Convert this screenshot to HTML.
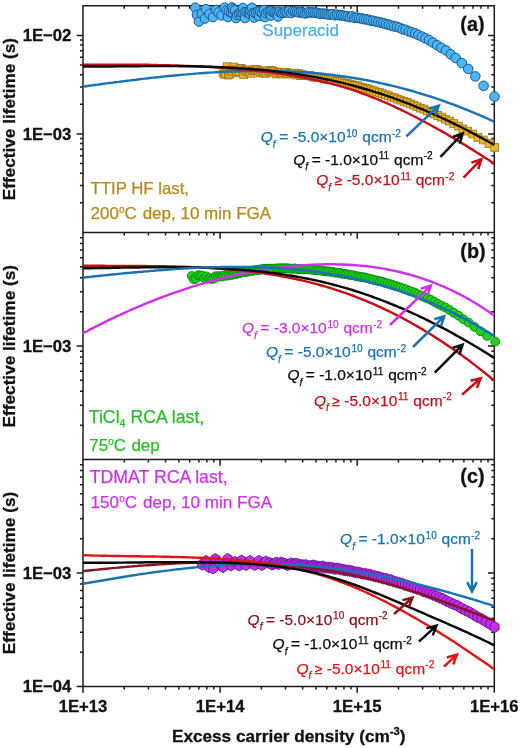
<!DOCTYPE html>
<html><head><meta charset="utf-8"><title>Effective lifetime vs excess carrier density</title>
<style>html,body{margin:0;padding:0;background:#fff}svg{display:block;filter:blur(0.4px)}</style></head>
<body>
<svg width="520" height="748" viewBox="0 0 520 748" font-family="'Liberation Sans', Arial, sans-serif">
<rect width="520" height="748" fill="#fff"/>
<g stroke="#1c1c1c" stroke-width="1.5" fill="none" stroke-linecap="butt">
<path d="M83.0 5.75V686.5M494.3 5.75V686.5"/>
<path d="M82.25 5.75H495.05"/>
<path d="M82.25 232.5H495.05"/>
<path d="M82.25 459.5H495.05"/>
<path d="M82.25 686.5H495.05"/>
<path d="M124.27 5.75v3.0M148.41 5.75v3.0M165.54 5.75v3.0M178.83 5.75v3.0M189.68 5.75v3.0M198.86 5.75v3.0M206.81 5.75v3.0M213.83 5.75v3.0M220.10 5.75v6.3M261.37 5.75v3.0M285.51 5.75v3.0M302.64 5.75v3.0M315.93 5.75v3.0M326.78 5.75v3.0M335.96 5.75v3.0M343.91 5.75v3.0M350.93 5.75v3.0M357.20 5.75v6.3M398.47 5.75v3.0M422.61 5.75v3.0M439.74 5.75v3.0M453.03 5.75v3.0M463.88 5.75v3.0M473.06 5.75v3.0M481.01 5.75v3.0M488.03 5.75v3.0M124.27 232.5v3.0M148.41 232.5v3.0M165.54 232.5v3.0M178.83 232.5v3.0M189.68 232.5v3.0M198.86 232.5v3.0M206.81 232.5v3.0M213.83 232.5v3.0M220.10 232.5v6.3M261.37 232.5v3.0M285.51 232.5v3.0M302.64 232.5v3.0M315.93 232.5v3.0M326.78 232.5v3.0M335.96 232.5v3.0M343.91 232.5v3.0M350.93 232.5v3.0M357.20 232.5v6.3M398.47 232.5v3.0M422.61 232.5v3.0M439.74 232.5v3.0M453.03 232.5v3.0M463.88 232.5v3.0M473.06 232.5v3.0M481.01 232.5v3.0M488.03 232.5v3.0M124.27 459.5v3.0M148.41 459.5v3.0M165.54 459.5v3.0M178.83 459.5v3.0M189.68 459.5v3.0M198.86 459.5v3.0M206.81 459.5v3.0M213.83 459.5v3.0M220.10 459.5v6.3M261.37 459.5v3.0M285.51 459.5v3.0M302.64 459.5v3.0M315.93 459.5v3.0M326.78 459.5v3.0M335.96 459.5v3.0M343.91 459.5v3.0M350.93 459.5v3.0M357.20 459.5v6.3M398.47 459.5v3.0M422.61 459.5v3.0M439.74 459.5v3.0M453.03 459.5v3.0M463.88 459.5v3.0M473.06 459.5v3.0M481.01 459.5v3.0M488.03 459.5v3.0M83.00 686.5v6.3M124.27 686.5v3.0M148.41 686.5v3.0M165.54 686.5v3.0M178.83 686.5v3.0M189.68 686.5v3.0M198.86 686.5v3.0M206.81 686.5v3.0M213.83 686.5v3.0M220.10 686.5v6.3M261.37 686.5v3.0M285.51 686.5v3.0M302.64 686.5v3.0M315.93 686.5v3.0M326.78 686.5v3.0M335.96 686.5v3.0M343.91 686.5v3.0M350.93 686.5v3.0M357.20 686.5v6.3M398.47 686.5v3.0M422.61 686.5v3.0M439.74 686.5v3.0M453.03 686.5v3.0M463.88 686.5v3.0M473.06 686.5v3.0M481.01 686.5v3.0M488.03 686.5v3.0M494.30 686.5v6.3M83.0 202.84h-3.0M494.3 202.84h-3.0M83.0 185.48h-3.0M494.3 185.48h-3.0M83.0 173.17h-3.0M494.3 173.17h-3.0M83.0 163.62h-3.0M494.3 163.62h-3.0M83.0 155.82h-3.0M494.3 155.82h-3.0M83.0 149.22h-3.0M494.3 149.22h-3.0M83.0 143.51h-3.0M494.3 143.51h-3.0M83.0 138.47h-3.0M494.3 138.47h-3.0M83.0 133.96h-6.3M494.3 133.96h-6.3M83.0 104.29h-3.0M494.3 104.29h-3.0M83.0 86.94h-3.0M494.3 86.94h-3.0M83.0 74.63h-3.0M494.3 74.63h-3.0M83.0 65.08h-3.0M494.3 65.08h-3.0M83.0 57.28h-3.0M494.3 57.28h-3.0M83.0 50.68h-3.0M494.3 50.68h-3.0M83.0 44.96h-3.0M494.3 44.96h-3.0M83.0 39.92h-3.0M494.3 39.92h-3.0M83.0 35.41h-6.3M494.3 35.41h-6.3M83.0 425.33h-3.0M494.3 425.33h-3.0M83.0 405.35h-3.0M494.3 405.35h-3.0M83.0 391.17h-3.0M494.3 391.17h-3.0M83.0 380.17h-3.0M494.3 380.17h-3.0M83.0 371.18h-3.0M494.3 371.18h-3.0M83.0 363.58h-3.0M494.3 363.58h-3.0M83.0 357.00h-3.0M494.3 357.00h-3.0M83.0 351.19h-3.0M494.3 351.19h-3.0M83.0 346.00h-6.3M494.3 346.00h-6.3M83.0 311.83h-3.0M494.3 311.83h-3.0M83.0 291.85h-3.0M494.3 291.85h-3.0M83.0 277.67h-3.0M494.3 277.67h-3.0M83.0 266.67h-3.0M494.3 266.67h-3.0M83.0 257.68h-3.0M494.3 257.68h-3.0M83.0 250.08h-3.0M494.3 250.08h-3.0M83.0 243.50h-3.0M494.3 243.50h-3.0M83.0 237.69h-3.0M494.3 237.69h-3.0M83.0 686.50h-6.3M83.0 652.33h-3.0M494.3 652.33h-3.0M83.0 632.35h-3.0M494.3 632.35h-3.0M83.0 618.17h-3.0M494.3 618.17h-3.0M83.0 607.17h-3.0M494.3 607.17h-3.0M83.0 598.18h-3.0M494.3 598.18h-3.0M83.0 590.58h-3.0M494.3 590.58h-3.0M83.0 584.00h-3.0M494.3 584.00h-3.0M83.0 578.19h-3.0M494.3 578.19h-3.0M83.0 573.00h-6.3M494.3 573.00h-6.3M83.0 538.83h-3.0M494.3 538.83h-3.0M83.0 518.85h-3.0M494.3 518.85h-3.0M83.0 504.67h-3.0M494.3 504.67h-3.0M83.0 493.67h-3.0M494.3 493.67h-3.0M83.0 484.68h-3.0M494.3 484.68h-3.0M83.0 477.08h-3.0M494.3 477.08h-3.0M83.0 470.50h-3.0M494.3 470.50h-3.0M83.0 464.69h-3.0M494.3 464.69h-3.0"/>
</g>
<g font-weight="bold" font-size="16.7" fill="#111" stroke="#111" stroke-width="0.3">
<text x="71.4" y="41.0" text-anchor="end">1E−02</text>
<text x="71.4" y="139.6" text-anchor="end">1E−03</text>
<text x="71.4" y="351.6" text-anchor="end">1E−03</text>
<text x="71.4" y="578.6" text-anchor="end">1E−03</text>
<text x="71.4" y="692.1" text-anchor="end">1E−04</text>
<text x="83.0" y="711.6" text-anchor="middle">1E+13</text>
<text x="220.1" y="711.6" text-anchor="middle">1E+14</text>
<text x="357.2" y="711.6" text-anchor="middle">1E+15</text>
<text x="494.3" y="711.6" text-anchor="middle">1E+16</text>
</g>
<g font-weight="bold" font-size="17.2" fill="#111" stroke="#111" stroke-width="0.3">
<text transform="translate(15.0 119.1) rotate(-90)" text-anchor="middle">Effective lifetime (s)</text>
<text transform="translate(15.0 346.2) rotate(-90)" text-anchor="middle">Effective lifetime (s)</text>
<text transform="translate(15.0 573.0) rotate(-90)" text-anchor="middle">Effective lifetime (s)</text>
<text x="288.7" y="741.8" text-anchor="middle">Excess carrier density (cm<tspan font-size="11.2" dy="-6.5">-3</tspan><tspan dy="6.5">)</tspan></text>
</g>
<g fill="#f0b428" stroke="#94741c" stroke-width="0.8"><rect x="219.1" y="68.6" width="7.8" height="7.8"/><rect x="220.4" y="70.3" width="7.8" height="7.8"/><rect x="221.8" y="69.7" width="7.8" height="7.8"/><rect x="223.1" y="62.8" width="7.8" height="7.8"/><rect x="224.4" y="71.2" width="7.8" height="7.8"/><rect x="225.8" y="70.2" width="7.8" height="7.8"/><rect x="227.1" y="66.7" width="7.8" height="7.8"/><rect x="228.5" y="67.6" width="7.8" height="7.8"/><rect x="229.9" y="63.2" width="7.8" height="7.8"/><rect x="231.3" y="65.9" width="7.8" height="7.8"/><rect x="232.7" y="68.8" width="7.8" height="7.8"/><rect x="234.1" y="69.0" width="7.8" height="7.8"/><rect x="235.5" y="67.7" width="7.8" height="7.8"/><rect x="236.9" y="64.4" width="7.8" height="7.8"/><rect x="238.3" y="65.3" width="7.8" height="7.8"/><rect x="239.8" y="70.5" width="7.8" height="7.8"/><rect x="241.2" y="66.5" width="7.8" height="7.8"/><rect x="242.7" y="67.7" width="7.8" height="7.8"/><rect x="244.1" y="66.2" width="7.8" height="7.8"/><rect x="245.6" y="68.8" width="7.8" height="7.8"/><rect x="247.1" y="69.3" width="7.8" height="7.8"/><rect x="248.6" y="66.6" width="7.8" height="7.8"/><rect x="250.1" y="65.6" width="7.8" height="7.8"/><rect x="251.6" y="66.8" width="7.8" height="7.8"/><rect x="253.1" y="65.7" width="7.8" height="7.8"/><rect x="254.7" y="66.9" width="7.8" height="7.8"/><rect x="256.2" y="69.0" width="7.8" height="7.8"/><rect x="257.8" y="67.1" width="7.8" height="7.8"/><rect x="259.3" y="68.3" width="7.8" height="7.8"/><rect x="260.9" y="69.3" width="7.8" height="7.8"/><rect x="262.5" y="69.2" width="7.8" height="7.8"/><rect x="264.1" y="66.8" width="7.8" height="7.8"/><rect x="265.7" y="67.9" width="7.8" height="7.8"/><rect x="267.3" y="66.5" width="7.8" height="7.8"/><rect x="268.9" y="67.9" width="7.8" height="7.8"/><rect x="270.6" y="67.9" width="7.8" height="7.8"/><rect x="272.2" y="70.1" width="7.8" height="7.8"/><rect x="273.9" y="68.2" width="7.8" height="7.8"/><rect x="275.5" y="69.1" width="7.8" height="7.8"/><rect x="277.2" y="68.3" width="7.8" height="7.8"/><rect x="278.9" y="70.1" width="7.8" height="7.8"/><rect x="280.6" y="68.6" width="7.8" height="7.8"/><rect x="282.3" y="68.4" width="7.8" height="7.8"/><rect x="284.0" y="70.1" width="7.8" height="7.8"/><rect x="285.8" y="69.7" width="7.8" height="7.8"/><rect x="287.5" y="69.8" width="7.8" height="7.8"/><rect x="289.3" y="69.5" width="7.8" height="7.8"/><rect x="291.0" y="69.2" width="7.8" height="7.8"/><rect x="292.8" y="71.1" width="7.8" height="7.8"/><rect x="294.6" y="69.7" width="7.8" height="7.8"/><rect x="296.4" y="71.6" width="7.8" height="7.8"/><rect x="298.2" y="70.7" width="7.8" height="7.8"/><rect x="300.1" y="71.7" width="7.8" height="7.8"/><rect x="302.0" y="71.4" width="7.8" height="7.8"/><rect x="303.9" y="71.6" width="7.8" height="7.8"/><rect x="305.8" y="71.5" width="7.8" height="7.8"/><rect x="307.8" y="72.4" width="7.8" height="7.8"/><rect x="309.8" y="73.2" width="7.8" height="7.8"/><rect x="311.8" y="73.3" width="7.8" height="7.8"/><rect x="313.8" y="72.9" width="7.8" height="7.8"/><rect x="315.9" y="73.6" width="7.8" height="7.8"/><rect x="318.0" y="73.8" width="7.8" height="7.8"/><rect x="320.2" y="75.1" width="7.8" height="7.8"/><rect x="322.3" y="75.1" width="7.8" height="7.8"/><rect x="324.5" y="75.4" width="7.8" height="7.8"/><rect x="326.8" y="75.5" width="7.8" height="7.8"/><rect x="329.0" y="75.8" width="7.8" height="7.8"/><rect x="331.3" y="76.9" width="7.8" height="7.8"/><rect x="333.6" y="77.5" width="7.8" height="7.8"/><rect x="336.0" y="77.5" width="7.8" height="7.8"/><rect x="338.4" y="77.8" width="7.8" height="7.8"/><rect x="340.8" y="79.2" width="7.8" height="7.8"/><rect x="343.3" y="79.5" width="7.8" height="7.8"/><rect x="345.8" y="80.3" width="7.8" height="7.8"/><rect x="348.3" y="80.9" width="7.8" height="7.8"/><rect x="350.9" y="81.4" width="7.8" height="7.8"/><rect x="353.5" y="81.9" width="7.8" height="7.8"/><rect x="356.1" y="83.0" width="7.8" height="7.8"/><rect x="358.8" y="83.8" width="7.8" height="7.8"/><rect x="361.5" y="84.4" width="7.8" height="7.8"/><rect x="364.2" y="85.0" width="7.8" height="7.8"/><rect x="367.0" y="86.0" width="7.8" height="7.8"/><rect x="369.8" y="87.0" width="7.8" height="7.8"/><rect x="372.7" y="88.0" width="7.8" height="7.8"/><rect x="375.6" y="88.7" width="7.8" height="7.8"/><rect x="378.5" y="89.9" width="7.8" height="7.8"/><rect x="381.5" y="90.9" width="7.8" height="7.8"/><rect x="384.5" y="91.9" width="7.8" height="7.8"/><rect x="387.5" y="93.2" width="7.8" height="7.8"/><rect x="390.6" y="93.9" width="7.8" height="7.8"/><rect x="393.7" y="95.2" width="7.8" height="7.8"/><rect x="396.9" y="96.2" width="7.8" height="7.8"/><rect x="400.1" y="97.6" width="7.8" height="7.8"/><rect x="403.3" y="98.4" width="7.8" height="7.8"/><rect x="406.6" y="100.0" width="7.8" height="7.8"/><rect x="409.9" y="101.2" width="7.8" height="7.8"/><rect x="413.2" y="102.8" width="7.8" height="7.8"/><rect x="416.5" y="104.2" width="7.8" height="7.8"/><rect x="419.9" y="105.2" width="7.8" height="7.8"/><rect x="423.3" y="107.1" width="7.8" height="7.8"/><rect x="426.8" y="108.7" width="7.8" height="7.8"/><rect x="430.3" y="109.8" width="7.8" height="7.8"/><rect x="433.9" y="111.6" width="7.8" height="7.8"/><rect x="437.7" y="113.3" width="7.8" height="7.8"/><rect x="441.6" y="115.3" width="7.8" height="7.8"/><rect x="445.7" y="117.2" width="7.8" height="7.8"/><rect x="449.9" y="119.7" width="7.8" height="7.8"/><rect x="454.4" y="122.2" width="7.8" height="7.8"/><rect x="459.0" y="125.0" width="7.8" height="7.8"/><rect x="463.8" y="127.2" width="7.8" height="7.8"/><rect x="468.8" y="130.1" width="7.8" height="7.8"/><rect x="474.0" y="133.5" width="7.8" height="7.8"/><rect x="479.4" y="136.1" width="7.8" height="7.8"/><rect x="485.0" y="139.6" width="7.8" height="7.8"/><rect x="490.8" y="143.5" width="7.8" height="7.8"/></g>
<path d="M83.0 86.6 L86.0 86.2 L88.9 85.8 L91.9 85.4 L94.8 85.0 L97.8 84.6 L100.8 84.2 L103.7 83.8 L106.7 83.4 L109.6 83.0 L112.6 82.6 L115.5 82.2 L118.5 81.9 L121.5 81.5 L124.4 81.1 L127.4 80.7 L130.3 80.4 L133.3 80.0 L136.3 79.7 L139.2 79.3 L142.2 78.9 L145.1 78.6 L148.1 78.3 L151.1 77.9 L154.0 77.6 L157.0 77.3 L159.9 77.0 L162.9 76.6 L165.9 76.3 L168.8 76.0 L171.8 75.7 L174.7 75.5 L177.7 75.2 L180.6 74.9 L183.6 74.6 L186.6 74.4 L189.5 74.1 L192.5 73.9 L195.4 73.6 L198.4 73.4 L201.4 73.2 L204.3 73.0 L207.3 72.8 L210.2 72.6 L213.2 72.4 L216.2 72.2 L219.1 72.1 L222.1 71.9 L225.0 71.8 L228.0 71.6 L230.9 71.5 L233.9 71.4 L236.9 71.3 L239.8 71.2 L242.8 71.1 L245.7 71.1 L248.7 71.0 L251.7 71.0 L254.6 70.9 L257.6 70.9 L260.5 70.9 L263.5 70.9 L266.5 70.9 L269.4 70.9 L272.4 71.0 L275.3 71.0 L278.3 71.1 L281.3 71.2 L284.2 71.3 L287.2 71.4 L290.1 71.5 L293.1 71.6 L296.0 71.8 L299.0 72.0 L302.0 72.1 L304.9 72.3 L307.9 72.5 L310.8 72.8 L313.8 73.0 L316.8 73.3 L319.7 73.6 L322.7 73.8 L325.6 74.2 L328.6 74.5 L331.6 74.8 L334.5 75.2 L337.5 75.6 L340.4 76.0 L343.4 76.4 L346.4 76.8 L349.3 77.2 L352.3 77.7 L355.2 78.2 L358.2 78.7 L361.1 79.2 L364.1 79.8 L367.1 80.3 L370.0 80.9 L373.0 81.5 L375.9 82.1 L378.9 82.7 L381.9 83.4 L384.8 84.0 L387.8 84.7 L390.7 85.4 L393.7 86.1 L396.7 86.9 L399.6 87.6 L402.6 88.4 L405.5 89.2 L408.5 90.0 L411.4 90.8 L414.4 91.7 L417.4 92.6 L420.3 93.5 L423.3 94.4 L426.2 95.3 L429.2 96.2 L432.2 97.2 L435.1 98.2 L438.1 99.2 L441.0 100.2 L444.0 101.2 L447.0 102.3 L449.9 103.3 L452.9 104.4 L455.8 105.5 L458.8 106.7 L461.8 107.8 L464.7 109.0 L467.7 110.1 L470.6 111.4 L473.6 112.6 L476.5 113.8 L479.5 115.1 L482.5 116.3 L485.4 117.6 L488.4 119.0 L491.3 120.3 L494.3 121.6" fill="none" stroke="#1a72b4" stroke-width="2.45"/>
<path d="M83.0 64.7 L86.0 64.7 L88.9 64.7 L91.9 64.7 L94.8 64.6 L97.8 64.6 L100.8 64.6 L103.7 64.6 L106.7 64.6 L109.6 64.6 L112.6 64.6 L115.5 64.6 L118.5 64.6 L121.5 64.6 L124.4 64.6 L127.4 64.6 L130.3 64.7 L133.3 64.7 L136.3 64.7 L139.2 64.7 L142.2 64.8 L145.1 64.8 L148.1 64.8 L151.1 64.9 L154.0 64.9 L157.0 65.0 L159.9 65.1 L162.9 65.1 L165.9 65.2 L168.8 65.3 L171.8 65.4 L174.7 65.4 L177.7 65.5 L180.6 65.6 L183.6 65.8 L186.6 65.9 L189.5 66.0 L192.5 66.1 L195.4 66.2 L198.4 66.4 L201.4 66.5 L204.3 66.7 L207.3 66.9 L210.2 67.0 L213.2 67.2 L216.2 67.4 L219.1 67.6 L222.1 67.8 L225.0 68.0 L228.0 68.2 L230.9 68.5 L233.9 68.7 L236.9 69.0 L239.8 69.2 L242.8 69.5 L245.7 69.8 L248.7 70.0 L251.7 70.3 L254.6 70.6 L257.6 71.0 L260.5 71.3 L263.5 71.6 L266.5 72.0 L269.4 72.3 L272.4 72.7 L275.3 73.1 L278.3 73.5 L281.3 73.9 L284.2 74.4 L287.2 74.8 L290.1 75.3 L293.1 75.8 L296.0 76.3 L299.0 76.8 L302.0 77.3 L304.9 77.9 L307.9 78.5 L310.8 79.0 L313.8 79.7 L316.8 80.3 L319.7 81.0 L322.7 81.6 L325.6 82.3 L328.6 83.1 L331.6 83.8 L334.5 84.6 L337.5 85.4 L340.4 86.2 L343.4 87.1 L346.4 88.0 L349.3 88.9 L352.3 89.9 L355.2 90.9 L358.2 91.9 L361.1 93.0 L364.1 94.1 L367.1 95.2 L370.0 96.3 L373.0 97.5 L375.9 98.7 L378.9 99.9 L381.9 101.1 L384.8 102.4 L387.8 103.7 L390.7 105.0 L393.7 106.4 L396.7 107.8 L399.6 109.2 L402.6 110.6 L405.5 112.0 L408.5 113.5 L411.4 115.0 L414.4 116.5 L417.4 118.0 L420.3 119.6 L423.3 121.1 L426.2 122.7 L429.2 124.3 L432.2 126.0 L435.1 127.6 L438.1 129.3 L441.0 130.9 L444.0 132.6 L447.0 134.3 L449.9 136.1 L452.9 137.8 L455.8 139.6 L458.8 141.3 L461.8 143.1 L464.7 144.9 L467.7 146.7 L470.6 148.6 L473.6 150.4 L476.5 152.3 L479.5 154.1 L482.5 156.0 L485.4 157.9 L488.4 159.8 L491.3 161.7 L494.3 163.6" fill="none" stroke="#c4101a" stroke-width="2.45"/>
<path d="M83.0 66.5 L86.0 66.5 L88.9 66.5 L91.9 66.5 L94.8 66.5 L97.8 66.5 L100.8 66.4 L103.7 66.4 L106.7 66.4 L109.6 66.4 L112.6 66.4 L115.5 66.3 L118.5 66.3 L121.5 66.3 L124.4 66.3 L127.4 66.2 L130.3 66.2 L133.3 66.2 L136.3 66.2 L139.2 66.2 L142.2 66.1 L145.1 66.1 L148.1 66.1 L151.1 66.1 L154.0 66.1 L157.0 66.1 L159.9 66.1 L162.9 66.1 L165.9 66.1 L168.8 66.1 L171.8 66.1 L174.7 66.1 L177.7 66.1 L180.6 66.2 L183.6 66.2 L186.6 66.2 L189.5 66.3 L192.5 66.3 L195.4 66.4 L198.4 66.5 L201.4 66.5 L204.3 66.6 L207.3 66.7 L210.2 66.8 L213.2 66.9 L216.2 67.0 L219.1 67.1 L222.1 67.2 L225.0 67.4 L228.0 67.5 L230.9 67.7 L233.9 67.8 L236.9 68.0 L239.8 68.2 L242.8 68.4 L245.7 68.6 L248.7 68.8 L251.7 69.0 L254.6 69.3 L257.6 69.5 L260.5 69.8 L263.5 70.1 L266.5 70.3 L269.4 70.6 L272.4 71.0 L275.3 71.3 L278.3 71.6 L281.3 72.0 L284.2 72.4 L287.2 72.7 L290.1 73.1 L293.1 73.6 L296.0 74.0 L299.0 74.4 L302.0 74.9 L304.9 75.4 L307.9 75.9 L310.8 76.4 L313.8 76.9 L316.8 77.4 L319.7 78.0 L322.7 78.6 L325.6 79.2 L328.6 79.8 L331.6 80.4 L334.5 81.1 L337.5 81.7 L340.4 82.4 L343.4 83.1 L346.4 83.9 L349.3 84.6 L352.3 85.4 L355.2 86.2 L358.2 87.0 L361.1 87.8 L364.1 88.7 L367.1 89.5 L370.0 90.4 L373.0 91.3 L375.9 92.3 L378.9 93.2 L381.9 94.2 L384.8 95.2 L387.8 96.2 L390.7 97.2 L393.7 98.2 L396.7 99.3 L399.6 100.4 L402.6 101.5 L405.5 102.6 L408.5 103.7 L411.4 104.9 L414.4 106.1 L417.4 107.3 L420.3 108.5 L423.3 109.7 L426.2 111.0 L429.2 112.3 L432.2 113.5 L435.1 114.9 L438.1 116.2 L441.0 117.5 L444.0 118.9 L447.0 120.3 L449.9 121.7 L452.9 123.1 L455.8 124.6 L458.8 126.0 L461.8 127.5 L464.7 129.0 L467.7 130.5 L470.6 132.1 L473.6 133.6 L476.5 135.2 L479.5 136.8 L482.5 138.4 L485.4 140.0 L488.4 141.7 L491.3 143.3 L494.3 145.0" fill="none" stroke="#0a0a0a" stroke-width="2.45"/>
<g fill="#4cb4f8" stroke="#17598c" stroke-width="1.0"><circle cx="195.4" cy="7.7" r="4.8"/><circle cx="197.0" cy="15.0" r="4.8"/><circle cx="199.0" cy="21.5" r="4.8"/><circle cx="202.0" cy="13.5" r="4.8"/><circle cx="205.0" cy="18.5" r="4.8"/><circle cx="206.0" cy="9.2" r="4.8"/><circle cx="209.5" cy="14.0" r="4.8"/><circle cx="213.0" cy="17.0" r="4.8"/><circle cx="216.0" cy="10.0" r="4.8"/><circle cx="218.5" cy="12.5" r="4.8"/><circle cx="221.5" cy="15.4" r="4.8"/><circle cx="224.6" cy="7.7" r="4.8"/><circle cx="226.7" cy="10.5" r="4.8"/><circle cx="228.0" cy="17.0" r="4.8"/><circle cx="228.9" cy="11.4" r="4.8"/><circle cx="231.1" cy="12.7" r="4.8"/><circle cx="232.0" cy="7.5" r="4.8"/><circle cx="233.0" cy="13.0" r="4.8"/><circle cx="233.2" cy="9.3" r="4.8"/><circle cx="235.2" cy="10.4" r="4.8"/><circle cx="236.0" cy="18.0" r="4.8"/><circle cx="237.2" cy="14.9" r="4.8"/><circle cx="239.1" cy="13.8" r="4.8"/><circle cx="241.0" cy="15.5" r="4.8"/><circle cx="241.0" cy="12.4" r="4.8"/><circle cx="242.9" cy="12.9" r="4.8"/><circle cx="243.0" cy="8.0" r="4.8"/><circle cx="244.8" cy="12.1" r="4.8"/><circle cx="245.0" cy="18.0" r="4.8"/><circle cx="246.7" cy="12.4" r="4.8"/><circle cx="248.6" cy="13.1" r="4.8"/><circle cx="250.0" cy="14.0" r="4.8"/><circle cx="250.5" cy="10.5" r="4.8"/><circle cx="252.0" cy="7.8" r="4.8"/><circle cx="252.5" cy="13.3" r="4.8"/><circle cx="254.0" cy="17.5" r="4.8"/><circle cx="254.4" cy="12.9" r="4.8"/><circle cx="256.3" cy="12.9" r="4.8"/><circle cx="258.2" cy="11.5" r="4.8"/><circle cx="259.0" cy="16.0" r="4.8"/><circle cx="260.1" cy="11.7" r="4.8"/><circle cx="262.1" cy="12.7" r="4.8"/><circle cx="264.0" cy="10.1" r="4.8"/><circle cx="265.0" cy="17.0" r="4.8"/><circle cx="265.9" cy="13.2" r="4.8"/><circle cx="267.8" cy="11.9" r="4.8"/><circle cx="269.8" cy="11.6" r="4.8"/><circle cx="271.0" cy="15.5" r="4.8"/><circle cx="271.7" cy="11.2" r="4.8"/><circle cx="273.7" cy="12.2" r="4.8"/><circle cx="275.6" cy="12.5" r="4.8"/><circle cx="277.5" cy="13.0" r="4.8"/><circle cx="278.0" cy="16.5" r="4.8"/><circle cx="279.5" cy="11.9" r="4.8"/><circle cx="281.4" cy="13.0" r="4.8"/><circle cx="283.4" cy="12.8" r="4.8"/><circle cx="285.3" cy="12.1" r="4.8"/><circle cx="287.3" cy="12.6" r="4.8"/><circle cx="289.2" cy="11.1" r="4.8"/><circle cx="291.2" cy="13.0" r="4.8"/><circle cx="293.1" cy="11.3" r="4.8"/><circle cx="295.1" cy="11.6" r="4.8"/><circle cx="297.1" cy="11.9" r="4.8"/><circle cx="299.0" cy="12.5" r="4.8"/><circle cx="301.0" cy="12.1" r="4.8"/><circle cx="303.0" cy="12.6" r="4.8"/><circle cx="304.9" cy="13.4" r="4.8"/><circle cx="306.9" cy="12.9" r="4.8"/><circle cx="308.9" cy="12.0" r="4.8"/><circle cx="310.9" cy="12.6" r="4.8"/><circle cx="312.9" cy="12.4" r="4.8"/><circle cx="314.8" cy="12.9" r="4.8"/><circle cx="316.8" cy="12.8" r="4.8"/><circle cx="318.8" cy="13.4" r="4.8"/><circle cx="320.8" cy="13.9" r="4.8"/><circle cx="322.8" cy="13.6" r="4.8"/><circle cx="324.8" cy="14.0" r="4.8"/><circle cx="326.8" cy="14.1" r="4.8"/><circle cx="328.8" cy="14.6" r="4.8"/><circle cx="330.8" cy="14.4" r="4.8"/><circle cx="332.8" cy="14.2" r="4.8"/><circle cx="334.9" cy="15.3" r="4.8"/><circle cx="337.0" cy="14.7" r="4.8"/><circle cx="339.0" cy="15.2" r="4.8"/><circle cx="341.2" cy="15.2" r="4.8"/><circle cx="343.3" cy="15.6" r="4.8"/><circle cx="345.5" cy="16.2" r="4.8"/><circle cx="347.7" cy="16.4" r="4.8"/><circle cx="349.9" cy="17.1" r="4.8"/><circle cx="352.1" cy="16.4" r="4.8"/><circle cx="354.4" cy="17.9" r="4.8"/><circle cx="356.7" cy="17.6" r="4.8"/><circle cx="359.0" cy="18.1" r="4.8"/><circle cx="361.3" cy="18.4" r="4.8"/><circle cx="363.7" cy="19.1" r="4.8"/><circle cx="366.1" cy="19.3" r="4.8"/><circle cx="368.5" cy="19.8" r="4.8"/><circle cx="370.9" cy="20.7" r="4.8"/><circle cx="373.4" cy="20.8" r="4.8"/><circle cx="375.9" cy="21.6" r="4.8"/><circle cx="378.4" cy="22.0" r="4.8"/><circle cx="381.0" cy="22.6" r="4.8"/><circle cx="383.5" cy="23.2" r="4.8"/><circle cx="386.1" cy="24.2" r="4.8"/><circle cx="388.8" cy="24.7" r="4.8"/><circle cx="391.4" cy="25.6" r="4.8"/><circle cx="394.1" cy="26.4" r="4.8"/><circle cx="396.9" cy="26.8" r="4.8"/><circle cx="399.7" cy="27.8" r="4.8"/><circle cx="402.6" cy="29.3" r="4.8"/><circle cx="405.6" cy="29.8" r="4.8"/><circle cx="408.7" cy="31.3" r="4.8"/><circle cx="411.8" cy="32.3" r="4.8"/><circle cx="415.1" cy="33.4" r="4.8"/><circle cx="418.4" cy="35.0" r="4.8"/><circle cx="421.9" cy="36.6" r="4.8"/><circle cx="425.4" cy="38.3" r="4.8"/><circle cx="429.0" cy="40.1" r="4.8"/><circle cx="432.9" cy="42.6" r="4.8"/><circle cx="437.0" cy="45.2" r="4.8"/><circle cx="441.3" cy="47.8" r="4.8"/><circle cx="445.9" cy="50.4" r="4.8"/><circle cx="450.7" cy="54.3" r="4.8"/><circle cx="455.7" cy="58.0" r="4.8"/><circle cx="461.8" cy="63.1" r="4.8"/><circle cx="468.2" cy="68.9" r="4.8"/><circle cx="475.3" cy="76.4" r="4.8"/><circle cx="483.6" cy="85.8" r="4.8"/><circle cx="494.5" cy="96.6" r="4.8"/></g>
<g fill="#1ed21e" stroke="#0a860a" stroke-width="0.9"><circle cx="191.8" cy="276.0" r="4.45"/><circle cx="193.9" cy="279.3" r="4.45"/><circle cx="196.0" cy="278.5" r="4.45"/><circle cx="198.1" cy="275.3" r="4.45"/><circle cx="200.2" cy="275.5" r="4.45"/><circle cx="202.3" cy="275.8" r="4.45"/><circle cx="204.3" cy="278.1" r="4.45"/><circle cx="206.3" cy="276.4" r="4.45"/><circle cx="208.3" cy="278.8" r="4.45"/><circle cx="210.2" cy="278.2" r="4.45"/><circle cx="212.2" cy="279.0" r="4.45"/><circle cx="214.1" cy="278.4" r="4.45"/><circle cx="216.0" cy="276.2" r="4.45"/><circle cx="217.8" cy="276.7" r="4.45"/><circle cx="219.7" cy="276.1" r="4.45"/><circle cx="221.5" cy="276.6" r="4.45"/><circle cx="223.3" cy="276.0" r="4.45"/><circle cx="225.1" cy="275.0" r="4.45"/><circle cx="226.8" cy="275.7" r="4.45"/><circle cx="228.6" cy="275.0" r="4.45"/><circle cx="230.3" cy="274.7" r="4.45"/><circle cx="232.0" cy="274.9" r="4.45"/><circle cx="233.7" cy="273.9" r="4.45"/><circle cx="235.3" cy="274.0" r="4.45"/><circle cx="237.0" cy="273.6" r="4.45"/><circle cx="238.6" cy="273.3" r="4.45"/><circle cx="240.2" cy="272.9" r="4.45"/><circle cx="241.8" cy="272.3" r="4.45"/><circle cx="243.4" cy="272.0" r="4.45"/><circle cx="245.0" cy="272.1" r="4.45"/><circle cx="246.7" cy="271.7" r="4.45"/><circle cx="248.3" cy="271.4" r="4.45"/><circle cx="250.0" cy="271.0" r="4.45"/><circle cx="251.7" cy="271.0" r="4.45"/><circle cx="253.4" cy="270.5" r="4.45"/><circle cx="255.1" cy="270.1" r="4.45"/><circle cx="256.8" cy="270.2" r="4.45"/><circle cx="258.5" cy="269.7" r="4.45"/><circle cx="260.2" cy="269.6" r="4.45"/><circle cx="262.0" cy="269.2" r="4.45"/><circle cx="263.7" cy="268.9" r="4.45"/><circle cx="265.5" cy="269.1" r="4.45"/><circle cx="267.3" cy="268.7" r="4.45"/><circle cx="269.0" cy="268.9" r="4.45"/><circle cx="270.8" cy="268.6" r="4.45"/><circle cx="272.7" cy="268.8" r="4.45"/><circle cx="274.5" cy="268.7" r="4.45"/><circle cx="276.3" cy="268.4" r="4.45"/><circle cx="278.2" cy="268.6" r="4.45"/><circle cx="280.0" cy="268.3" r="4.45"/><circle cx="281.9" cy="268.3" r="4.45"/><circle cx="283.8" cy="268.4" r="4.45"/><circle cx="285.7" cy="268.3" r="4.45"/><circle cx="287.6" cy="268.4" r="4.45"/><circle cx="289.5" cy="268.6" r="4.45"/><circle cx="291.4" cy="268.7" r="4.45"/><circle cx="293.4" cy="268.7" r="4.45"/><circle cx="295.3" cy="268.5" r="4.45"/><circle cx="297.3" cy="269.0" r="4.45"/><circle cx="299.3" cy="269.1" r="4.45"/><circle cx="301.3" cy="269.0" r="4.45"/><circle cx="303.3" cy="269.3" r="4.45"/><circle cx="305.3" cy="269.1" r="4.45"/><circle cx="307.3" cy="269.3" r="4.45"/><circle cx="309.4" cy="269.4" r="4.45"/><circle cx="311.4" cy="269.6" r="4.45"/><circle cx="313.5" cy="269.9" r="4.45"/><circle cx="315.6" cy="270.4" r="4.45"/><circle cx="317.7" cy="270.2" r="4.45"/><circle cx="319.8" cy="270.5" r="4.45"/><circle cx="321.9" cy="270.6" r="4.45"/><circle cx="324.1" cy="271.3" r="4.45"/><circle cx="326.2" cy="271.3" r="4.45"/><circle cx="328.4" cy="271.4" r="4.45"/><circle cx="330.6" cy="271.7" r="4.45"/><circle cx="332.8" cy="271.9" r="4.45"/><circle cx="335.0" cy="272.6" r="4.45"/><circle cx="337.2" cy="272.6" r="4.45"/><circle cx="339.5" cy="272.8" r="4.45"/><circle cx="341.7" cy="273.6" r="4.45"/><circle cx="344.0" cy="273.9" r="4.45"/><circle cx="346.3" cy="274.1" r="4.45"/><circle cx="348.6" cy="274.7" r="4.45"/><circle cx="350.9" cy="275.1" r="4.45"/><circle cx="353.2" cy="275.2" r="4.45"/><circle cx="355.6" cy="276.0" r="4.45"/><circle cx="357.9" cy="276.4" r="4.45"/><circle cx="360.3" cy="276.9" r="4.45"/><circle cx="362.7" cy="277.2" r="4.45"/><circle cx="365.1" cy="277.5" r="4.45"/><circle cx="367.5" cy="278.2" r="4.45"/><circle cx="370.0" cy="278.9" r="4.45"/><circle cx="372.4" cy="279.4" r="4.45"/><circle cx="374.9" cy="280.3" r="4.45"/><circle cx="377.4" cy="280.6" r="4.45"/><circle cx="379.9" cy="281.2" r="4.45"/><circle cx="382.4" cy="281.8" r="4.45"/><circle cx="385.0" cy="282.9" r="4.45"/><circle cx="387.5" cy="283.4" r="4.45"/><circle cx="390.1" cy="284.3" r="4.45"/><circle cx="392.7" cy="285.0" r="4.45"/><circle cx="395.3" cy="285.9" r="4.45"/><circle cx="397.9" cy="286.6" r="4.45"/><circle cx="400.6" cy="287.7" r="4.45"/><circle cx="403.4" cy="288.7" r="4.45"/><circle cx="406.2" cy="289.5" r="4.45"/><circle cx="409.1" cy="290.8" r="4.45"/><circle cx="412.0" cy="291.6" r="4.45"/><circle cx="415.0" cy="292.8" r="4.45"/><circle cx="418.1" cy="294.4" r="4.45"/><circle cx="421.2" cy="295.8" r="4.45"/><circle cx="424.4" cy="297.1" r="4.45"/><circle cx="427.7" cy="298.5" r="4.45"/><circle cx="431.0" cy="299.9" r="4.45"/><circle cx="434.4" cy="301.9" r="4.45"/><circle cx="437.8" cy="303.8" r="4.45"/><circle cx="441.4" cy="305.7" r="4.45"/><circle cx="445.3" cy="307.5" r="4.45"/><circle cx="449.4" cy="310.0" r="4.45"/><circle cx="453.8" cy="312.8" r="4.45"/><circle cx="458.5" cy="315.7" r="4.45"/><circle cx="463.5" cy="319.3" r="4.45"/><circle cx="468.7" cy="322.6" r="4.45"/><circle cx="474.4" cy="326.9" r="4.45"/><circle cx="480.5" cy="331.3" r="4.45"/><circle cx="487.1" cy="335.9" r="4.45"/><circle cx="495.2" cy="341.6" r="4.45"/></g>
<path d="M83.0 333.2 L86.0 331.7 L88.9 330.1 L91.9 328.6 L94.8 327.1 L97.8 325.6 L100.8 324.1 L103.7 322.6 L106.7 321.2 L109.6 319.7 L112.6 318.3 L115.5 316.9 L118.5 315.6 L121.5 314.2 L124.4 312.8 L127.4 311.5 L130.3 310.2 L133.3 308.9 L136.3 307.6 L139.2 306.4 L142.2 305.1 L145.1 303.9 L148.1 302.7 L151.1 301.5 L154.0 300.3 L157.0 299.2 L159.9 298.0 L162.9 296.9 L165.9 295.8 L168.8 294.7 L171.8 293.6 L174.7 292.6 L177.7 291.6 L180.6 290.6 L183.6 289.6 L186.6 288.6 L189.5 287.6 L192.5 286.7 L195.4 285.8 L198.4 284.9 L201.4 284.0 L204.3 283.1 L207.3 282.3 L210.2 281.4 L213.2 280.6 L216.2 279.8 L219.1 279.0 L222.1 278.3 L225.0 277.6 L228.0 276.8 L230.9 276.1 L233.9 275.5 L236.9 274.8 L239.8 274.2 L242.8 273.5 L245.7 272.9 L248.7 272.4 L251.7 271.8 L254.6 271.3 L257.6 270.7 L260.5 270.2 L263.5 269.8 L266.5 269.3 L269.4 268.8 L272.4 268.4 L275.3 268.0 L278.3 267.6 L281.3 267.3 L284.2 266.9 L287.2 266.6 L290.1 266.3 L293.1 266.0 L296.0 265.8 L299.0 265.5 L302.0 265.3 L304.9 265.1 L307.9 264.9 L310.8 264.8 L313.8 264.6 L316.8 264.5 L319.7 264.4 L322.7 264.4 L325.6 264.3 L328.6 264.3 L331.6 264.3 L334.5 264.3 L337.5 264.4 L340.4 264.4 L343.4 264.5 L346.4 264.7 L349.3 264.8 L352.3 265.0 L355.2 265.2 L358.2 265.4 L361.1 265.7 L364.1 266.0 L367.1 266.3 L370.0 266.7 L373.0 267.1 L375.9 267.5 L378.9 267.9 L381.9 268.4 L384.8 268.9 L387.8 269.5 L390.7 270.1 L393.7 270.7 L396.7 271.3 L399.6 272.0 L402.6 272.7 L405.5 273.5 L408.5 274.3 L411.4 275.1 L414.4 276.0 L417.4 276.9 L420.3 277.8 L423.3 278.8 L426.2 279.8 L429.2 280.9 L432.2 282.0 L435.1 283.2 L438.1 284.3 L441.0 285.6 L444.0 286.8 L447.0 288.2 L449.9 289.5 L452.9 290.9 L455.8 292.4 L458.8 293.9 L461.8 295.4 L464.7 297.0 L467.7 298.6 L470.6 300.3 L473.6 302.0 L476.5 303.8 L479.5 305.6 L482.5 307.5 L485.4 309.4 L488.4 311.4 L491.3 313.4 L494.3 315.5" fill="none" stroke="#cc33ea" stroke-width="2.45"/>
<path d="M83.0 265.7 L86.0 265.7 L88.9 265.7 L91.9 265.8 L94.8 265.8 L97.8 265.8 L100.8 265.8 L103.7 265.8 L106.7 265.9 L109.6 265.9 L112.6 265.9 L115.5 265.9 L118.5 265.9 L121.5 265.9 L124.4 265.9 L127.4 265.9 L130.3 266.0 L133.3 266.0 L136.3 266.0 L139.2 266.0 L142.2 266.0 L145.1 266.0 L148.1 266.1 L151.1 266.1 L154.0 266.1 L157.0 266.2 L159.9 266.2 L162.9 266.3 L165.9 266.3 L168.8 266.4 L171.8 266.4 L174.7 266.5 L177.7 266.6 L180.6 266.7 L183.6 266.8 L186.6 266.9 L189.5 267.0 L192.5 267.1 L195.4 267.2 L198.4 267.3 L201.4 267.5 L204.3 267.6 L207.3 267.8 L210.2 268.0 L213.2 268.1 L216.2 268.3 L219.1 268.5 L222.1 268.8 L225.0 269.0 L228.0 269.2 L230.9 269.5 L233.9 269.8 L236.9 270.0 L239.8 270.3 L242.8 270.6 L245.7 271.0 L248.7 271.3 L251.7 271.7 L254.6 272.0 L257.6 272.4 L260.5 272.8 L263.5 273.3 L266.5 273.7 L269.4 274.2 L272.4 274.6 L275.3 275.1 L278.3 275.6 L281.3 276.2 L284.2 276.7 L287.2 277.3 L290.1 277.9 L293.1 278.5 L296.0 279.1 L299.0 279.8 L302.0 280.4 L304.9 281.1 L307.9 281.9 L310.8 282.6 L313.8 283.4 L316.8 284.1 L319.7 285.0 L322.7 285.8 L325.6 286.6 L328.6 287.5 L331.6 288.4 L334.5 289.4 L337.5 290.3 L340.4 291.3 L343.4 292.3 L346.4 293.4 L349.3 294.4 L352.3 295.5 L355.2 296.6 L358.2 297.8 L361.1 299.0 L364.1 300.2 L367.1 301.4 L370.0 302.6 L373.0 303.9 L375.9 305.2 L378.9 306.6 L381.9 307.9 L384.8 309.3 L387.8 310.7 L390.7 312.2 L393.7 313.6 L396.7 315.1 L399.6 316.7 L402.6 318.2 L405.5 319.8 L408.5 321.4 L411.4 323.0 L414.4 324.7 L417.4 326.4 L420.3 328.1 L423.3 329.9 L426.2 331.7 L429.2 333.5 L432.2 335.3 L435.1 337.2 L438.1 339.1 L441.0 341.0 L444.0 342.9 L447.0 344.9 L449.9 346.9 L452.9 349.0 L455.8 351.0 L458.8 353.1 L461.8 355.3 L464.7 357.4 L467.7 359.6 L470.6 361.8 L473.6 364.1 L476.5 366.4 L479.5 368.7 L482.5 371.0 L485.4 373.4 L488.4 375.7 L491.3 378.2 L494.3 380.6" fill="none" stroke="#c4101a" stroke-width="2.45"/>
<path d="M83.0 268.3 L86.0 268.3 L88.9 268.2 L91.9 268.2 L94.8 268.1 L97.8 268.1 L100.8 268.0 L103.7 268.0 L106.7 267.9 L109.6 267.9 L112.6 267.8 L115.5 267.8 L118.5 267.7 L121.5 267.6 L124.4 267.6 L127.4 267.5 L130.3 267.5 L133.3 267.5 L136.3 267.4 L139.2 267.4 L142.2 267.3 L145.1 267.3 L148.1 267.3 L151.1 267.2 L154.0 267.2 L157.0 267.2 L159.9 267.2 L162.9 267.2 L165.9 267.2 L168.8 267.2 L171.8 267.2 L174.7 267.2 L177.7 267.2 L180.6 267.2 L183.6 267.3 L186.6 267.3 L189.5 267.4 L192.5 267.4 L195.4 267.5 L198.4 267.5 L201.4 267.6 L204.3 267.7 L207.3 267.8 L210.2 267.9 L213.2 268.0 L216.2 268.2 L219.1 268.3 L222.1 268.5 L225.0 268.6 L228.0 268.8 L230.9 269.0 L233.9 269.2 L236.9 269.4 L239.8 269.6 L242.8 269.8 L245.7 270.1 L248.7 270.3 L251.7 270.6 L254.6 270.9 L257.6 271.2 L260.5 271.5 L263.5 271.8 L266.5 272.2 L269.4 272.6 L272.4 272.9 L275.3 273.3 L278.3 273.7 L281.3 274.2 L284.2 274.6 L287.2 275.1 L290.1 275.5 L293.1 276.0 L296.0 276.5 L299.0 277.1 L302.0 277.6 L304.9 278.2 L307.9 278.8 L310.8 279.4 L313.8 280.0 L316.8 280.6 L319.7 281.3 L322.7 282.0 L325.6 282.7 L328.6 283.4 L331.6 284.2 L334.5 285.0 L337.5 285.7 L340.4 286.6 L343.4 287.4 L346.4 288.3 L349.3 289.1 L352.3 290.0 L355.2 291.0 L358.2 291.9 L361.1 292.9 L364.1 293.9 L367.1 294.9 L370.0 295.9 L373.0 297.0 L375.9 298.1 L378.9 299.2 L381.9 300.3 L384.8 301.4 L387.8 302.6 L390.7 303.8 L393.7 305.0 L396.7 306.2 L399.6 307.5 L402.6 308.7 L405.5 310.0 L408.5 311.3 L411.4 312.7 L414.4 314.0 L417.4 315.4 L420.3 316.8 L423.3 318.2 L426.2 319.6 L429.2 321.1 L432.2 322.6 L435.1 324.1 L438.1 325.6 L441.0 327.1 L444.0 328.7 L447.0 330.2 L449.9 331.8 L452.9 333.4 L455.8 335.1 L458.8 336.7 L461.8 338.4 L464.7 340.1 L467.7 341.8 L470.6 343.5 L473.6 345.2 L476.5 347.0 L479.5 348.8 L482.5 350.6 L485.4 352.4 L488.4 354.2 L491.3 356.1 L494.3 358.0" fill="none" stroke="#0a0a0a" stroke-width="2.45"/>
<path d="M83.0 277.6 L86.0 277.3 L88.9 277.0 L91.9 276.7 L94.8 276.3 L97.8 276.0 L100.8 275.7 L103.7 275.4 L106.7 275.1 L109.6 274.8 L112.6 274.5 L115.5 274.2 L118.5 273.9 L121.5 273.6 L124.4 273.3 L127.4 273.0 L130.3 272.8 L133.3 272.5 L136.3 272.2 L139.2 271.9 L142.2 271.7 L145.1 271.4 L148.1 271.2 L151.1 270.9 L154.0 270.7 L157.0 270.4 L159.9 270.2 L162.9 270.0 L165.9 269.7 L168.8 269.5 L171.8 269.3 L174.7 269.1 L177.7 268.9 L180.6 268.7 L183.6 268.5 L186.6 268.4 L189.5 268.2 L192.5 268.0 L195.4 267.9 L198.4 267.8 L201.4 267.6 L204.3 267.5 L207.3 267.4 L210.2 267.3 L213.2 267.2 L216.2 267.1 L219.1 267.1 L222.1 267.0 L225.0 266.9 L228.0 266.9 L230.9 266.9 L233.9 266.9 L236.9 266.9 L239.8 266.9 L242.8 266.9 L245.7 266.9 L248.7 266.9 L251.7 267.0 L254.6 267.1 L257.6 267.2 L260.5 267.3 L263.5 267.4 L266.5 267.5 L269.4 267.6 L272.4 267.8 L275.3 267.9 L278.3 268.1 L281.3 268.3 L284.2 268.5 L287.2 268.8 L290.1 269.0 L293.1 269.3 L296.0 269.5 L299.0 269.8 L302.0 270.1 L304.9 270.4 L307.9 270.8 L310.8 271.1 L313.8 271.5 L316.8 271.9 L319.7 272.3 L322.7 272.7 L325.6 273.2 L328.6 273.7 L331.6 274.1 L334.5 274.6 L337.5 275.2 L340.4 275.7 L343.4 276.3 L346.4 276.8 L349.3 277.4 L352.3 278.1 L355.2 278.7 L358.2 279.4 L361.1 280.1 L364.1 280.8 L367.1 281.5 L370.0 282.2 L373.0 283.0 L375.9 283.8 L378.9 284.6 L381.9 285.4 L384.8 286.3 L387.8 287.2 L390.7 288.1 L393.7 289.0 L396.7 290.0 L399.6 290.9 L402.6 291.9 L405.5 293.0 L408.5 294.0 L411.4 295.1 L414.4 296.2 L417.4 297.3 L420.3 298.5 L423.3 299.6 L426.2 300.8 L429.2 302.1 L432.2 303.3 L435.1 304.6 L438.1 305.9 L441.0 307.2 L444.0 308.6 L447.0 310.0 L449.9 311.4 L452.9 312.8 L455.8 314.3 L458.8 315.8 L461.8 317.3 L464.7 318.9 L467.7 320.5 L470.6 322.1 L473.6 323.7 L476.5 325.4 L479.5 327.1 L482.5 328.8 L485.4 330.6 L488.4 332.4 L491.3 334.2 L494.3 336.1" fill="none" stroke="#1a72b4" stroke-width="2.45"/>
<g fill="#c52cee" stroke="#5f1890" stroke-width="0.9"><path d="M202.0 558.9L206.5 561.7V567.3L202.0 570.1L197.5 567.3V561.7Z"/><path d="M206.0 555.4L210.5 558.2V563.8L206.0 566.6L201.5 563.8V558.2Z"/><path d="M209.0 561.4L213.5 564.2V569.8L209.0 572.6L204.5 569.8V564.2Z"/><path d="M213.0 562.8L217.5 565.6V571.2L213.0 574.0L208.5 571.2V565.6Z"/><path d="M215.4 553.5L219.9 556.3V561.9L215.4 564.7L210.9 561.9V556.3Z"/><path d="M219.0 557.4L223.5 560.2V565.8L219.0 568.6L214.5 565.8V560.2Z"/><path d="M223.0 561.5L227.5 564.3V569.9L223.0 572.7L218.5 569.9V564.3Z"/><path d="M227.7 553.5L232.2 556.3V561.9L227.7 564.7L223.2 561.9V556.3Z"/><path d="M231.0 559.8L235.5 562.6V568.2L231.0 571.0L226.5 568.2V562.6Z"/><path d="M235.0 556.4L239.5 559.2V564.8L235.0 567.6L230.5 564.8V559.2Z"/><path d="M239.2 559.8L243.7 562.6V568.2L239.2 571.0L234.7 568.2V562.6Z"/><path d="M241.5 555.0L246.0 557.8V563.4L241.5 566.2L237.0 563.4V557.8Z"/><path d="M246.0 559.4L250.5 562.2V567.8L246.0 570.6L241.5 567.8V562.2Z"/><path d="M250.0 555.4L254.5 558.2V563.8L250.0 566.6L245.5 563.8V558.2Z"/><path d="M254.6 559.4L259.1 562.2V567.8L254.6 570.6L250.1 567.8V562.2Z"/><path d="M259.0 555.4L263.5 558.2V563.8L259.0 566.6L254.5 563.8V558.2Z"/><path d="M262.0 559.4L266.5 562.2V567.8L262.0 570.6L257.5 567.8V562.2Z"/><path d="M266.0 555.9L270.5 558.7V564.3L266.0 567.1L261.5 564.3V558.7Z"/><path d="M269.9 557.5L274.4 560.3V565.9L269.9 568.7L265.4 565.9V560.3Z"/><path d="M272.1 559.0L276.6 561.8V567.4L272.1 570.2L267.6 567.4V561.8Z"/><path d="M274.3 557.9L278.8 560.7V566.3L274.3 569.1L269.8 566.3V560.7Z"/><path d="M276.5 557.1L281.0 559.9V565.5L276.5 568.3L272.0 565.5V559.9Z"/><path d="M278.6 558.5L283.1 561.3V566.9L278.6 569.7L274.1 566.9V561.3Z"/><path d="M280.8 557.0L285.3 559.8V565.4L280.8 568.2L276.3 565.4V559.8Z"/><path d="M282.9 557.5L287.4 560.3V565.9L282.9 568.7L278.4 565.9V560.3Z"/><path d="M285.1 558.4L289.6 561.2V566.8L285.1 569.6L280.6 566.8V561.2Z"/><path d="M287.2 559.5L291.7 562.3V567.9L287.2 570.7L282.7 567.9V562.3Z"/><path d="M289.3 558.8L293.8 561.6V567.2L289.3 570.0L284.8 567.2V561.6Z"/><path d="M291.5 557.8L296.0 560.6V566.2L291.5 569.0L287.0 566.2V560.6Z"/><path d="M293.6 558.6L298.1 561.4V567.0L293.6 569.8L289.1 567.0V561.4Z"/><path d="M295.7 558.3L300.2 561.1V566.7L295.7 569.5L291.2 566.7V561.1Z"/><path d="M297.8 558.5L302.3 561.3V566.9L297.8 569.7L293.3 566.9V561.3Z"/><path d="M299.9 559.4L304.4 562.2V567.8L299.9 570.6L295.4 567.8V562.2Z"/><path d="M302.0 559.5L306.5 562.3V567.9L302.0 570.7L297.5 567.9V562.3Z"/><path d="M304.1 559.7L308.6 562.5V568.1L304.1 570.9L299.6 568.1V562.5Z"/><path d="M306.2 559.6L310.7 562.4V568.0L306.2 570.8L301.7 568.0V562.4Z"/><path d="M308.2 560.7L312.7 563.5V569.1L308.2 571.9L303.7 569.1V563.5Z"/><path d="M310.3 560.5L314.8 563.3V568.9L310.3 571.7L305.8 568.9V563.3Z"/><path d="M312.3 560.0L316.8 562.8V568.4L312.3 571.2L307.8 568.4V562.8Z"/><path d="M314.4 560.1L318.9 562.9V568.5L314.4 571.3L309.9 568.5V562.9Z"/><path d="M316.4 560.8L320.9 563.6V569.2L316.4 572.0L311.9 569.2V563.6Z"/><path d="M318.5 561.1L323.0 563.9V569.5L318.5 572.3L314.0 569.5V563.9Z"/><path d="M320.5 561.6L325.0 564.4V570.0L320.5 572.8L316.0 570.0V564.4Z"/><path d="M322.5 560.9L327.0 563.7V569.3L322.5 572.1L318.0 569.3V563.7Z"/><path d="M324.5 561.8L329.0 564.6V570.2L324.5 573.0L320.0 570.2V564.6Z"/><path d="M326.6 562.1L331.1 564.9V570.5L326.6 573.3L322.1 570.5V564.9Z"/><path d="M328.6 562.0L333.1 564.8V570.4L328.6 573.2L324.1 570.4V564.8Z"/><path d="M330.6 562.4L335.1 565.2V570.8L330.6 573.6L326.1 570.8V565.2Z"/><path d="M332.6 562.4L337.1 565.2V570.8L332.6 573.6L328.1 570.8V565.2Z"/><path d="M334.6 563.3L339.1 566.1V571.7L334.6 574.5L330.1 571.7V566.1Z"/><path d="M336.7 563.0L341.2 565.8V571.4L336.7 574.2L332.2 571.4V565.8Z"/><path d="M338.8 563.2L343.3 566.0V571.6L338.8 574.4L334.3 571.6V566.0Z"/><path d="M340.9 563.8L345.4 566.6V572.2L340.9 575.0L336.4 572.2V566.6Z"/><path d="M343.1 564.2L347.6 567.0V572.6L343.1 575.4L338.6 572.6V567.0Z"/><path d="M345.2 564.7L349.7 567.5V573.1L345.2 575.9L340.7 573.1V567.5Z"/><path d="M347.4 565.0L351.9 567.8V573.4L347.4 576.2L342.9 573.4V567.8Z"/><path d="M349.6 565.2L354.1 568.0V573.6L349.6 576.4L345.1 573.6V568.0Z"/><path d="M351.9 565.6L356.4 568.4V574.0L351.9 576.8L347.4 574.0V568.4Z"/><path d="M354.1 566.4L358.6 569.2V574.8L354.1 577.6L349.6 574.8V569.2Z"/><path d="M356.4 566.8L360.9 569.6V575.2L356.4 578.0L351.9 575.2V569.6Z"/><path d="M358.7 566.9L363.2 569.7V575.3L358.7 578.1L354.2 575.3V569.7Z"/><path d="M361.1 567.7L365.6 570.5V576.1L361.1 578.9L356.6 576.1V570.5Z"/><path d="M363.4 568.2L367.9 571.0V576.6L363.4 579.4L358.9 576.6V571.0Z"/><path d="M365.8 568.3L370.3 571.1V576.7L365.8 579.5L361.3 576.7V571.1Z"/><path d="M368.2 569.0L372.7 571.8V577.4L368.2 580.2L363.7 577.4V571.8Z"/><path d="M370.7 569.3L375.2 572.1V577.7L370.7 580.5L366.2 577.7V572.1Z"/><path d="M373.1 570.2L377.6 573.0V578.6L373.1 581.4L368.6 578.6V573.0Z"/><path d="M375.6 570.8L380.1 573.6V579.2L375.6 582.0L371.1 579.2V573.6Z"/><path d="M378.1 571.3L382.6 574.1V579.7L378.1 582.5L373.6 579.7V574.1Z"/><path d="M380.7 572.0L385.2 574.8V580.4L380.7 583.2L376.2 580.4V574.8Z"/><path d="M383.2 572.9L387.7 575.7V581.3L383.2 584.1L378.7 581.3V575.7Z"/><path d="M385.9 573.1L390.4 575.9V581.5L385.9 584.3L381.4 581.5V575.9Z"/><path d="M388.5 574.3L393.0 577.1V582.7L388.5 585.5L384.0 582.7V577.1Z"/><path d="M391.1 574.6L395.6 577.4V583.0L391.1 585.8L386.6 583.0V577.4Z"/><path d="M393.8 575.9L398.3 578.7V584.3L393.8 587.1L389.3 584.3V578.7Z"/><path d="M396.6 576.6L401.1 579.4V585.0L396.6 587.8L392.1 585.0V579.4Z"/><path d="M399.3 577.3L403.8 580.1V585.7L399.3 588.5L394.8 585.7V580.1Z"/><path d="M402.1 577.9L406.6 580.7V586.3L402.1 589.1L397.6 586.3V580.7Z"/><path d="M405.0 579.3L409.5 582.1V587.7L405.0 590.5L400.5 587.7V582.1Z"/><path d="M407.9 580.1L412.4 582.9V588.5L407.9 591.3L403.4 588.5V582.9Z"/><path d="M410.8 581.1L415.3 583.9V589.5L410.8 592.3L406.3 589.5V583.9Z"/><path d="M413.8 581.9L418.3 584.7V590.3L413.8 593.1L409.3 590.3V584.7Z"/><path d="M416.9 583.2L421.4 586.0V591.6L416.9 594.4L412.4 591.6V586.0Z"/><path d="M420.0 584.0L424.5 586.8V592.4L420.0 595.2L415.5 592.4V586.8Z"/><path d="M423.1 585.6L427.6 588.4V594.0L423.1 596.8L418.6 594.0V588.4Z"/><path d="M426.3 586.5L430.8 589.3V594.9L426.3 597.7L421.8 594.9V589.3Z"/><path d="M429.5 587.7L434.0 590.5V596.1L429.5 598.9L425.0 596.1V590.5Z"/><path d="M432.8 589.1L437.3 591.9V597.5L432.8 600.3L428.3 597.5V591.9Z"/><path d="M436.1 590.4L440.6 593.2V598.8L436.1 601.6L431.6 598.8V593.2Z"/><path d="M439.5 592.0L444.0 594.8V600.4L439.5 603.2L435.0 600.4V594.8Z"/><path d="M443.0 593.4L447.5 596.2V601.8L443.0 604.6L438.5 601.8V596.2Z"/><path d="M446.5 595.4L451.0 598.2V603.8L446.5 606.6L442.0 603.8V598.2Z"/><path d="M450.1 597.0L454.6 599.8V605.4L450.1 608.2L445.6 605.4V599.8Z"/><path d="M453.8 598.7L458.3 601.5V607.1L453.8 609.9L449.3 607.1V601.5Z"/><path d="M457.6 600.2L462.1 603.0V608.6L457.6 611.4L453.1 608.6V603.0Z"/><path d="M461.4 602.6L465.9 605.4V611.0L461.4 613.8L456.9 611.0V605.4Z"/><path d="M465.3 604.6L469.8 607.4V613.0L465.3 615.8L460.8 613.0V607.4Z"/><path d="M469.3 606.5L473.8 609.3V614.9L469.3 617.7L464.8 614.9V609.3Z"/><path d="M473.3 608.8L477.8 611.6V617.2L473.3 620.0L468.8 617.2V611.6Z"/><path d="M477.4 611.3L481.9 614.1V619.7L477.4 622.5L472.9 619.7V614.1Z"/><path d="M481.6 613.4L486.1 616.2V621.8L481.6 624.6L477.1 621.8V616.2Z"/><path d="M485.9 616.1L490.4 618.9V624.5L485.9 627.3L481.4 624.5V618.9Z"/><path d="M490.2 618.6L494.7 621.4V627.0L490.2 629.8L485.7 627.0V621.4Z"/><path d="M494.6 621.4L499.1 624.2V629.8L494.6 632.6L490.1 629.8V624.2Z"/></g>
<path d="M83.0 571.1 L86.0 570.8 L88.9 570.5 L91.9 570.2 L94.8 569.9 L97.8 569.6 L100.8 569.3 L103.7 569.0 L106.7 568.7 L109.6 568.4 L112.6 568.1 L115.5 567.9 L118.5 567.6 L121.5 567.3 L124.4 567.1 L127.4 566.8 L130.3 566.6 L133.3 566.3 L136.3 566.1 L139.2 565.8 L142.2 565.6 L145.1 565.4 L148.1 565.2 L151.1 565.0 L154.0 564.8 L157.0 564.6 L159.9 564.4 L162.9 564.2 L165.9 564.0 L168.8 563.9 L171.8 563.7 L174.7 563.5 L177.7 563.4 L180.6 563.3 L183.6 563.1 L186.6 563.0 L189.5 562.9 L192.5 562.8 L195.4 562.7 L198.4 562.6 L201.4 562.6 L204.3 562.5 L207.3 562.4 L210.2 562.4 L213.2 562.4 L216.2 562.3 L219.1 562.3 L222.1 562.3 L225.0 562.3 L228.0 562.4 L230.9 562.4 L233.9 562.4 L236.9 562.5 L239.8 562.5 L242.8 562.6 L245.7 562.7 L248.7 562.8 L251.7 562.9 L254.6 563.0 L257.6 563.2 L260.5 563.3 L263.5 563.5 L266.5 563.6 L269.4 563.8 L272.4 564.0 L275.3 564.2 L278.3 564.4 L281.3 564.7 L284.2 564.9 L287.2 565.2 L290.1 565.5 L293.1 565.8 L296.0 566.1 L299.0 566.4 L302.0 566.7 L304.9 567.1 L307.9 567.5 L310.8 567.9 L313.8 568.3 L316.8 568.7 L319.7 569.1 L322.7 569.5 L325.6 570.0 L328.6 570.5 L331.6 571.0 L334.5 571.5 L337.5 572.0 L340.4 572.6 L343.4 573.1 L346.4 573.7 L349.3 574.3 L352.3 574.9 L355.2 575.5 L358.2 576.2 L361.1 576.9 L364.1 577.5 L367.1 578.2 L370.0 579.0 L373.0 579.7 L375.9 580.5 L378.9 581.2 L381.9 582.0 L384.8 582.9 L387.8 583.7 L390.7 584.5 L393.7 585.4 L396.7 586.3 L399.6 587.1 L402.6 588.0 L405.5 589.0 L408.5 589.9 L411.4 590.8 L414.4 591.8 L417.4 592.8 L420.3 593.7 L423.3 594.7 L426.2 595.7 L429.2 596.7 L432.2 597.7 L435.1 598.8 L438.1 599.8 L441.0 600.9 L444.0 601.9 L447.0 603.0 L449.9 604.0 L452.9 605.1 L455.8 606.2 L458.8 607.3 L461.8 608.4 L464.7 609.5 L467.7 610.6 L470.6 611.7 L473.6 612.8 L476.5 613.9 L479.5 615.0 L482.5 616.1 L485.4 617.3 L488.4 618.4 L491.3 619.5 L494.3 620.6" fill="none" stroke="#8a1420" stroke-width="2.45"/>
<path d="M83.0 583.9 L86.0 583.3 L88.9 582.8 L91.9 582.3 L94.8 581.8 L97.8 581.2 L100.8 580.7 L103.7 580.2 L106.7 579.7 L109.6 579.2 L112.6 578.7 L115.5 578.2 L118.5 577.7 L121.5 577.2 L124.4 576.7 L127.4 576.3 L130.3 575.8 L133.3 575.3 L136.3 574.9 L139.2 574.4 L142.2 574.0 L145.1 573.6 L148.1 573.1 L151.1 572.7 L154.0 572.3 L157.0 571.9 L159.9 571.5 L162.9 571.1 L165.9 570.7 L168.8 570.4 L171.8 570.0 L174.7 569.6 L177.7 569.3 L180.6 569.0 L183.6 568.6 L186.6 568.3 L189.5 568.0 L192.5 567.7 L195.4 567.4 L198.4 567.1 L201.4 566.9 L204.3 566.6 L207.3 566.4 L210.2 566.1 L213.2 565.9 L216.2 565.7 L219.1 565.5 L222.1 565.3 L225.0 565.1 L228.0 565.0 L230.9 564.8 L233.9 564.7 L236.9 564.5 L239.8 564.4 L242.8 564.3 L245.7 564.2 L248.7 564.2 L251.7 564.1 L254.6 564.1 L257.6 564.0 L260.5 564.0 L263.5 564.0 L266.5 564.0 L269.4 564.0 L272.4 564.1 L275.3 564.1 L278.3 564.2 L281.3 564.3 L284.2 564.4 L287.2 564.5 L290.1 564.7 L293.1 564.8 L296.0 565.0 L299.0 565.2 L302.0 565.4 L304.9 565.6 L307.9 565.8 L310.8 566.1 L313.8 566.3 L316.8 566.6 L319.7 566.9 L322.7 567.2 L325.6 567.5 L328.6 567.9 L331.6 568.2 L334.5 568.6 L337.5 569.0 L340.4 569.4 L343.4 569.8 L346.4 570.2 L349.3 570.6 L352.3 571.1 L355.2 571.5 L358.2 572.0 L361.1 572.5 L364.1 573.0 L367.1 573.5 L370.0 574.1 L373.0 574.6 L375.9 575.2 L378.9 575.7 L381.9 576.3 L384.8 576.9 L387.8 577.5 L390.7 578.1 L393.7 578.8 L396.7 579.4 L399.6 580.0 L402.6 580.7 L405.5 581.4 L408.5 582.1 L411.4 582.8 L414.4 583.5 L417.4 584.2 L420.3 584.9 L423.3 585.6 L426.2 586.4 L429.2 587.2 L432.2 587.9 L435.1 588.7 L438.1 589.5 L441.0 590.3 L444.0 591.1 L447.0 591.9 L449.9 592.7 L452.9 593.6 L455.8 594.4 L458.8 595.3 L461.8 596.1 L464.7 597.0 L467.7 597.9 L470.6 598.7 L473.6 599.6 L476.5 600.5 L479.5 601.4 L482.5 602.3 L485.4 603.3 L488.4 604.2 L491.3 605.1 L494.3 606.1" fill="none" stroke="#1a72b4" stroke-width="2.45"/>
<path d="M83.0 555.2 L86.0 555.3 L88.9 555.4 L91.9 555.5 L94.8 555.6 L97.8 555.6 L100.8 555.7 L103.7 555.8 L106.7 555.8 L109.6 555.9 L112.6 556.0 L115.5 556.0 L118.5 556.0 L121.5 556.1 L124.4 556.1 L127.4 556.2 L130.3 556.2 L133.3 556.3 L136.3 556.3 L139.2 556.3 L142.2 556.4 L145.1 556.4 L148.1 556.5 L151.1 556.5 L154.0 556.5 L157.0 556.6 L159.9 556.6 L162.9 556.7 L165.9 556.8 L168.8 556.8 L171.8 556.9 L174.7 556.9 L177.7 557.0 L180.6 557.1 L183.6 557.2 L186.6 557.3 L189.5 557.4 L192.5 557.5 L195.4 557.6 L198.4 557.7 L201.4 557.8 L204.3 558.0 L207.3 558.1 L210.2 558.2 L213.2 558.4 L216.2 558.6 L219.1 558.8 L222.1 559.0 L225.0 559.2 L228.0 559.4 L230.9 559.6 L233.9 559.8 L236.9 560.1 L239.8 560.3 L242.8 560.6 L245.7 560.9 L248.7 561.2 L251.7 561.5 L254.6 561.9 L257.6 562.2 L260.5 562.6 L263.5 563.0 L266.5 563.4 L269.4 563.8 L272.4 564.2 L275.3 564.7 L278.3 565.2 L281.3 565.7 L284.2 566.3 L287.2 566.8 L290.1 567.4 L293.1 568.0 L296.0 568.7 L299.0 569.3 L302.0 570.0 L304.9 570.7 L307.9 571.5 L310.8 572.3 L313.8 573.1 L316.8 573.9 L319.7 574.8 L322.7 575.7 L325.6 576.6 L328.6 577.6 L331.6 578.6 L334.5 579.6 L337.5 580.7 L340.4 581.8 L343.4 582.9 L346.4 584.0 L349.3 585.2 L352.3 586.4 L355.2 587.6 L358.2 588.9 L361.1 590.2 L364.1 591.5 L367.1 592.8 L370.0 594.2 L373.0 595.6 L375.9 597.0 L378.9 598.5 L381.9 600.0 L384.8 601.4 L387.8 603.0 L390.7 604.5 L393.7 606.1 L396.7 607.7 L399.6 609.3 L402.6 610.9 L405.5 612.5 L408.5 614.2 L411.4 615.9 L414.4 617.6 L417.4 619.3 L420.3 621.0 L423.3 622.8 L426.2 624.5 L429.2 626.3 L432.2 628.1 L435.1 629.9 L438.1 631.8 L441.0 633.6 L444.0 635.5 L447.0 637.3 L449.9 639.2 L452.9 641.1 L455.8 643.1 L458.8 645.0 L461.8 646.9 L464.7 648.9 L467.7 650.9 L470.6 652.9 L473.6 654.9 L476.5 656.9 L479.5 658.9 L482.5 661.0 L485.4 663.0 L488.4 665.1 L491.3 667.2 L494.3 669.3" fill="none" stroke="#e01515" stroke-width="2.45"/>
<path d="M83.0 562.8 L86.0 562.8 L88.9 562.8 L91.9 562.8 L94.8 562.8 L97.8 562.8 L100.8 562.8 L103.7 562.7 L106.7 562.7 L109.6 562.7 L112.6 562.7 L115.5 562.7 L118.5 562.6 L121.5 562.6 L124.4 562.6 L127.4 562.5 L130.3 562.5 L133.3 562.5 L136.3 562.4 L139.2 562.4 L142.2 562.4 L145.1 562.3 L148.1 562.3 L151.1 562.3 L154.0 562.3 L157.0 562.2 L159.9 562.2 L162.9 562.2 L165.9 562.2 L168.8 562.2 L171.8 562.1 L174.7 562.1 L177.7 562.1 L180.6 562.1 L183.6 562.1 L186.6 562.1 L189.5 562.2 L192.5 562.2 L195.4 562.2 L198.4 562.2 L201.4 562.3 L204.3 562.3 L207.3 562.4 L210.2 562.4 L213.2 562.5 L216.2 562.6 L219.1 562.6 L222.1 562.7 L225.0 562.8 L228.0 562.9 L230.9 563.0 L233.9 563.2 L236.9 563.3 L239.8 563.4 L242.8 563.6 L245.7 563.7 L248.7 563.9 L251.7 564.1 L254.6 564.3 L257.6 564.5 L260.5 564.8 L263.5 565.0 L266.5 565.3 L269.4 565.6 L272.4 565.9 L275.3 566.2 L278.3 566.5 L281.3 566.9 L284.2 567.3 L287.2 567.7 L290.1 568.1 L293.1 568.6 L296.0 569.1 L299.0 569.6 L302.0 570.2 L304.9 570.7 L307.9 571.3 L310.8 572.0 L313.8 572.6 L316.8 573.3 L319.7 574.1 L322.7 574.8 L325.6 575.6 L328.6 576.4 L331.6 577.3 L334.5 578.2 L337.5 579.1 L340.4 580.0 L343.4 581.0 L346.4 582.0 L349.3 583.0 L352.3 584.0 L355.2 585.0 L358.2 586.1 L361.1 587.2 L364.1 588.3 L367.1 589.5 L370.0 590.6 L373.0 591.8 L375.9 593.0 L378.9 594.2 L381.9 595.4 L384.8 596.6 L387.8 597.9 L390.7 599.1 L393.7 600.4 L396.7 601.6 L399.6 602.9 L402.6 604.2 L405.5 605.5 L408.5 606.8 L411.4 608.1 L414.4 609.3 L417.4 610.6 L420.3 611.9 L423.3 613.2 L426.2 614.5 L429.2 615.8 L432.2 617.1 L435.1 618.3 L438.1 619.6 L441.0 620.9 L444.0 622.2 L447.0 623.5 L449.9 624.8 L452.9 626.1 L455.8 627.4 L458.8 628.7 L461.8 630.1 L464.7 631.4 L467.7 632.7 L470.6 634.1 L473.6 635.5 L476.5 636.8 L479.5 638.2 L482.5 639.6 L485.4 641.0 L488.4 642.4 L491.3 643.9 L494.3 645.3" fill="none" stroke="#0a0a0a" stroke-width="2.45"/>
<path d="M406.4 136.4L438.8 105.6M435.3 115.5L438.8 105.6L428.7 108.6" fill="none" stroke="#1a72b4" stroke-width="2.5" stroke-linejoin="miter" stroke-linecap="butt"/>
<path d="M440.5 156.8L462.7 133.5M459.7 143.6L462.7 133.5L452.8 137.0" fill="none" stroke="#0a0a0a" stroke-width="2.5" stroke-linejoin="miter" stroke-linecap="butt"/>
<path d="M463.5 177.7L481.4 159.2M478.3 169.2L481.4 159.2L471.4 162.6" fill="none" stroke="#c4101a" stroke-width="2.5" stroke-linejoin="miter" stroke-linecap="butt"/>
<path d="M390.0 325.0L430.8 285.6M427.4 295.6L430.8 285.6L420.8 288.7" fill="none" stroke="#cc33ea" stroke-width="2.5" stroke-linejoin="miter" stroke-linecap="butt"/>
<path d="M413.0 347.0L444.3 316.2M441.0 326.1L444.3 316.2L434.3 319.3" fill="none" stroke="#1a72b4" stroke-width="2.5" stroke-linejoin="miter" stroke-linecap="butt"/>
<path d="M434.8 372.7L462.6 344.7M459.4 354.7L462.6 344.7L452.7 347.9" fill="none" stroke="#0a0a0a" stroke-width="2.5" stroke-linejoin="miter" stroke-linecap="butt"/>
<path d="M462.0 394.8L480.7 378.2M476.9 387.9L480.7 378.2L470.6 380.8" fill="none" stroke="#c4101a" stroke-width="2.5" stroke-linejoin="miter" stroke-linecap="butt"/>
<path d="M472.0 549.0L472.0 591.4M467.2 582.1L472.0 591.4L476.8 582.1" fill="none" stroke="#1a72b4" stroke-width="2.5" stroke-linejoin="miter" stroke-linecap="butt"/>
<path d="M394.0 614.0L412.5 597.6M408.7 607.3L412.5 597.6L402.4 600.2" fill="none" stroke="#8a1420" stroke-width="2.5" stroke-linejoin="miter" stroke-linecap="butt"/>
<path d="M418.9 641.6L436.5 625.6M432.8 635.4L436.5 625.6L426.3 628.4" fill="none" stroke="#0a0a0a" stroke-width="2.5" stroke-linejoin="miter" stroke-linecap="butt"/>
<path d="M443.9 666.6L456.9 654.6M453.2 664.5L456.9 654.6L446.8 657.5" fill="none" stroke="#e01515" stroke-width="2.5" stroke-linejoin="miter" stroke-linecap="butt"/>
<text x="262.3" y="36" font-size="17" fill="#4aaeea" stroke="#4aaeea" stroke-width="0.25">Superacid</text>
<text x="260.8" y="142" font-size="15.5" fill="#1a72b4" stroke="#1a72b4" stroke-width="0.25"><tspan font-style="italic">Q</tspan><tspan font-style="italic" font-size="10.1" dy="5.5">f</tspan><tspan dy="-5.5" dx="-0.8"> = -5.0×10</tspan><tspan font-size="10.1" dy="-5.4" dx="0.7">10</tspan><tspan dy="5.4" dx="0.5"> qcm</tspan><tspan font-size="10.1" dy="-5.4" dx="0.3">-2</tspan></text>
<text x="293.3" y="164.7" font-size="15.5" fill="#0a0a0a" stroke="#0a0a0a" stroke-width="0.25"><tspan font-style="italic">Q</tspan><tspan font-style="italic" font-size="10.1" dy="5.5">f</tspan><tspan dy="-5.5" dx="-0.8"> = -1.0×10</tspan><tspan font-size="10.1" dy="-5.4" dx="0.7">11</tspan><tspan dy="5.4" dx="0.5"> qcm</tspan><tspan font-size="10.1" dy="-5.4" dx="0.3">-2</tspan></text>
<text x="316.3" y="185.0" font-size="15.5" fill="#c4101a" stroke="#c4101a" stroke-width="0.25"><tspan font-style="italic">Q</tspan><tspan font-style="italic" font-size="10.1" dy="5.5">f</tspan><tspan dy="-5.5" dx="-0.8"> </tspan><tspan font-size="14.0">≥</tspan><tspan> -5.0×10</tspan><tspan font-size="10.1" dy="-5.4" dx="0.7">11</tspan><tspan dy="5.4" dx="0.5"> qcm</tspan><tspan font-size="10.1" dy="-5.4" dx="0.3">-2</tspan></text>
<text x="90.6" y="194.4" font-size="16.75" fill="#b5891c" stroke="#b5891c" stroke-width="0.25">TTIP HF last,</text>
<text x="90.6" y="219.1" font-size="17" fill="#b5891c" stroke="#b5891c" stroke-width="0.25">200<tspan font-size="10" dy="-6.2">o</tspan><tspan dy="6.2">C</tspan><tspan dx="1.1"> dep, 10 min FGA</tspan></text>
<text x="242" y="333.3" font-size="15.5" fill="#cc33ea" stroke="#cc33ea" stroke-width="0.25"><tspan font-style="italic">Q</tspan><tspan font-style="italic" font-size="10.1" dy="5.5">f</tspan><tspan dy="-5.5" dx="-0.8"> = -3.0×10</tspan><tspan font-size="10.1" dy="-5.4" dx="0.7">10</tspan><tspan dy="5.4" dx="0.5"> qcm</tspan><tspan font-size="10.1" dy="-5.4" dx="0.3">-2</tspan></text>
<text x="266" y="357" font-size="15.5" fill="#1a72b4" stroke="#1a72b4" stroke-width="0.25"><tspan font-style="italic">Q</tspan><tspan font-style="italic" font-size="10.1" dy="5.5">f</tspan><tspan dy="-5.5" dx="-0.8"> = -5.0×10</tspan><tspan font-size="10.1" dy="-5.4" dx="0.7">10</tspan><tspan dy="5.4" dx="0.5"> qcm</tspan><tspan font-size="10.1" dy="-5.4" dx="0.3">-2</tspan></text>
<text x="287.4" y="380.4" font-size="15.5" fill="#0a0a0a" stroke="#0a0a0a" stroke-width="0.25"><tspan font-style="italic">Q</tspan><tspan font-style="italic" font-size="10.1" dy="5.5">f</tspan><tspan dy="-5.5" dx="-0.8"> = -1.0×10</tspan><tspan font-size="10.1" dy="-5.4" dx="0.7">11</tspan><tspan dy="5.4" dx="0.5"> qcm</tspan><tspan font-size="10.1" dy="-5.4" dx="0.3">-2</tspan></text>
<text x="313.9" y="405.5" font-size="15.5" fill="#c4101a" stroke="#c4101a" stroke-width="0.25"><tspan font-style="italic">Q</tspan><tspan font-style="italic" font-size="10.1" dy="5.5">f</tspan><tspan dy="-5.5" dx="-0.8"> </tspan><tspan font-size="14.0">≥</tspan><tspan> -5.0×10</tspan><tspan font-size="10.1" dy="-5.4" dx="0.7">11</tspan><tspan dy="5.4" dx="0.5"> qcm</tspan><tspan font-size="10.1" dy="-5.4" dx="0.3">-2</tspan></text>
<text x="88.8" y="422.8" font-size="17.7" fill="#2bbd2b" stroke="#2bbd2b" stroke-width="0.25">TiCl<tspan font-size="10.8" dy="4.6">4</tspan><tspan dy="-4.6"> RCA last,</tspan></text>
<text x="89.3" y="450.9" font-size="17" fill="#2bbd2b" stroke="#2bbd2b" stroke-width="0.25">75<tspan font-size="10" dy="-6.2">o</tspan><tspan dy="6.2">C</tspan><tspan dx="0.6"> dep</tspan></text>
<text x="89.7" y="483.2" font-size="17.7" fill="#cc33ea" stroke="#cc33ea" stroke-width="0.25">TDMAT RCA last,</text>
<text x="90.6" y="508.2" font-size="17.1" fill="#cc33ea" stroke="#cc33ea" stroke-width="0.25">150<tspan font-size="10" dy="-6.2">o</tspan><tspan dy="6.2">C</tspan><tspan dx="1.1"> dep, 10 min FGA</tspan></text>
<text x="340.1" y="544" font-size="15.5" fill="#1a72b4" stroke="#1a72b4" stroke-width="0.25"><tspan font-style="italic">Q</tspan><tspan font-style="italic" font-size="10.1" dy="5.5">f</tspan><tspan dy="-5.5" dx="-0.8"> = -1.0×10</tspan><tspan font-size="10.1" dy="-5.4" dx="0.7">10</tspan><tspan dy="5.4" dx="0.5"> qcm</tspan><tspan font-size="10.1" dy="-5.4" dx="0.3">-2</tspan></text>
<text x="247.6" y="624.8" font-size="15.5" fill="#8a1420" stroke="#8a1420" stroke-width="0.25"><tspan font-style="italic">Q</tspan><tspan font-style="italic" font-size="10.1" dy="5.5">f</tspan><tspan dy="-5.5" dx="-0.8"> = -5.0×10</tspan><tspan font-size="10.1" dy="-5.4" dx="0.7">10</tspan><tspan dy="5.4" dx="0.5"> qcm</tspan><tspan font-size="10.1" dy="-5.4" dx="0.3">-2</tspan></text>
<text x="272.6" y="649.4" font-size="15.5" fill="#0a0a0a" stroke="#0a0a0a" stroke-width="0.25"><tspan font-style="italic">Q</tspan><tspan font-style="italic" font-size="10.1" dy="5.5">f</tspan><tspan dy="-5.5" dx="-0.8"> = -1.0×10</tspan><tspan font-size="10.1" dy="-5.4" dx="0.7">11</tspan><tspan dy="5.4" dx="0.5"> qcm</tspan><tspan font-size="10.1" dy="-5.4" dx="0.3">-2</tspan></text>
<text x="296.4" y="673.6" font-size="15.5" fill="#e01515" stroke="#e01515" stroke-width="0.25"><tspan font-style="italic">Q</tspan><tspan font-style="italic" font-size="10.1" dy="5.5">f</tspan><tspan dy="-5.5" dx="-0.8"> </tspan><tspan font-size="14.0">≥</tspan><tspan> -5.0×10</tspan><tspan font-size="10.1" dy="-5.4" dx="0.7">11</tspan><tspan dy="5.4" dx="0.5"> qcm</tspan><tspan font-size="10.1" dy="-5.4" dx="0.3">-2</tspan></text>
<g font-weight="bold" font-size="19.8" fill="#111" stroke="#111" stroke-width="0.3">
<text x="460.3" y="31.2">(a)</text><text x="460.3" y="258.2">(b)</text><text x="460.3" y="483.3">(c)</text></g>
</svg>
</body></html>
